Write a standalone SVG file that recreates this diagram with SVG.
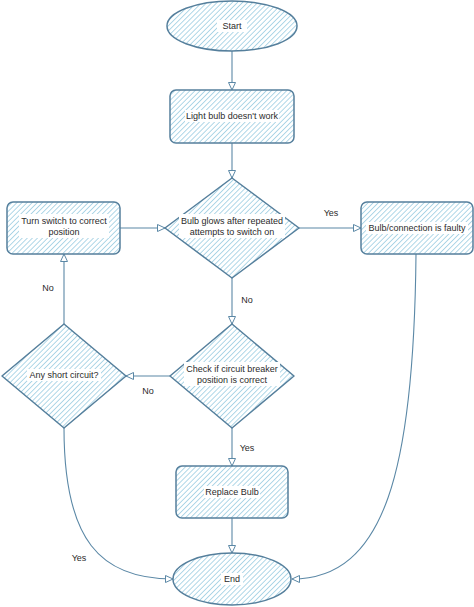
<svg xmlns="http://www.w3.org/2000/svg" width="474" height="607" viewBox="0 0 474 607">
<defs>
<pattern id="hatch" patternUnits="userSpaceOnUse" width="3.6" height="3.6" patternTransform="rotate(45)">
<rect width="3.6" height="3.6" fill="#ffffff"/>
<line x1="0" y1="0" x2="0" y2="3.6" stroke="#a3d1e4" stroke-width="1.7"/>
</pattern>
<marker id="arr" markerWidth="10" markerHeight="10" refX="8" refY="4" orient="auto" markerUnits="userSpaceOnUse">
<path d="M0.5,0.5 L8,4 L0.5,7.5 Z" fill="#ffffff" stroke="#5b88a6" stroke-width="1"/>
</marker>
</defs>
<style>
.shape{fill:url(#hatch);stroke:#557f9c;stroke-width:1.5;}
.t{font-family:"Liberation Sans",Helvetica,Arial,sans-serif;font-size:9px;fill:#2b2b2b;text-anchor:middle;}
.bg{fill:#ffffff;}
.c{fill:none;stroke:#5b88a6;stroke-width:1.1;marker-end:url(#arr);}
</style>
<rect width="474" height="607" fill="#ffffff"/>
<g id="connectors">
<line class="c" x1="232" y1="51" x2="232" y2="90"/>
<line class="c" x1="232" y1="143" x2="232" y2="178"/>
<line class="c" x1="299" y1="228" x2="361" y2="228"/>
<line class="c" x1="120" y1="228" x2="165" y2="228"/>
<line class="c" x1="232" y1="278" x2="232" y2="324"/>
<line class="c" x1="170" y1="376" x2="126" y2="376"/>
<line class="c" x1="64" y1="324" x2="64" y2="254"/>
<line class="c" x1="232" y1="428" x2="232" y2="466"/>
<line class="c" x1="232" y1="518" x2="232" y2="553"/>
<path class="c" d="M64,428 C64,540 100,579 173,579"/>
<path class="c" d="M416,254 C414,470 385,579 292,579"/>
<text class="t" x="331" y="216">Yes</text>
<text class="t" x="247" y="303">No</text>
<text class="t" x="148" y="394">No</text>
<text class="t" x="48" y="291">No</text>
<text class="t" x="247" y="451">Yes</text>
<text class="t" x="79" y="561">Yes</text>
</g>
<g id="start">
<ellipse class="shape" cx="232" cy="26" rx="65" ry="25"/>
<rect class="bg" x="217" y="20" width="30" height="12"/>
<text class="t" x="232" y="29">Start</text>
</g>
<g id="light-bulb">
<rect class="shape" x="170" y="90" width="124" height="53" rx="6"/>
<rect class="bg" x="185" y="110" width="94" height="12"/>
<text class="t" x="232" y="119">Light bulb doesn't work</text>
</g>
<g id="bulb-glows">
<path class="shape" d="M232,178 L299,228 L232,278 L165,228 Z" stroke-linejoin="round"/>
<rect class="bg" x="179" y="214" width="106" height="24"/>
<text class="t" x="232" y="224">Bulb glows after repeated</text>
<text class="t" x="232" y="235">attempts to switch on</text>
</g>
<g id="turn-switch">
<rect class="shape" x="7" y="202" width="113" height="52" rx="6"/>
<rect class="bg" x="19" y="214" width="90" height="24"/>
<text class="t" x="64" y="224">Turn switch to correct</text>
<text class="t" x="64" y="235">position</text>
</g>
<g id="faulty">
<rect class="shape" x="361" y="202" width="112" height="52" rx="6"/>
<rect class="bg" x="366" y="222" width="102" height="12"/>
<text class="t" x="417" y="231">Bulb/connection is faulty</text>
</g>
<g id="check-breaker">
<path class="shape" d="M232,324 L294,376 L232,428 L170,376 Z" stroke-linejoin="round"/>
<rect class="bg" x="184" y="362" width="96" height="24"/>
<text class="t" x="232" y="372">Check if circuit breaker</text>
<text class="t" x="232" y="383">position is correct</text>
</g>
<g id="short-circuit">
<path class="shape" d="M64,324 L126,376 L64,428 L2,376 Z" stroke-linejoin="round"/>
<rect class="bg" x="27" y="369" width="74" height="12"/>
<text class="t" x="64" y="378">Any short circuit?</text>
</g>
<g id="replace-bulb">
<rect class="shape" x="176" y="466" width="112" height="52" rx="6"/>
<rect class="bg" x="204" y="486" width="56" height="12"/>
<text class="t" x="232" y="495">Replace Bulb</text>
</g>
<g id="end">
<ellipse class="shape" cx="232" cy="579" rx="59" ry="26"/>
<rect class="bg" x="221" y="573" width="22" height="12"/>
<text class="t" x="232" y="582">End</text>
</g>
</svg>
